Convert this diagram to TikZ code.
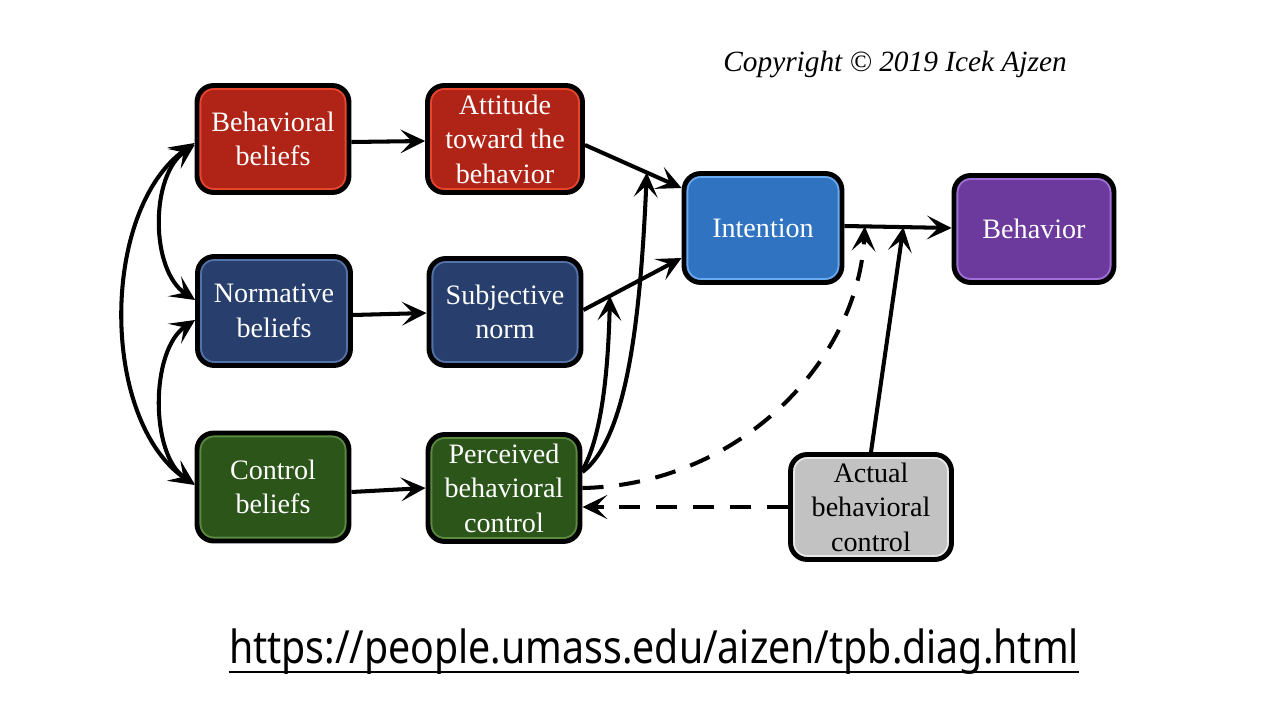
\documentclass[tikz,border=0pt]{standalone}
\usepackage{fontspec}
\setmainfont{Liberation Serif}
\newfontfamily\urlfont[FakeStretch=0.86]{Noto Sans}
\usetikzlibrary{arrows.meta,calc}
\definecolor{cred}{HTML}{B02418}\definecolor{credl}{HTML}{E8452F}
\definecolor{cnav}{HTML}{283F6E}\definecolor{cnavl}{HTML}{5272A8}
\definecolor{cgrn}{HTML}{2B5519}\definecolor{cgrnl}{HTML}{5A8A40}
\definecolor{cblu}{HTML}{2F73C1}\definecolor{cblul}{HTML}{6AAAF0}
\definecolor{cpur}{HTML}{6B3A9C}\definecolor{cpurl}{HTML}{A070D8}
\definecolor{cgry}{HTML}{C2C2C2}\definecolor{cgryl}{HTML}{E8E8E8}
\begin{document}
\begin{tikzpicture}[x=0.02cm,y=-0.02cm,
  box/.style 2 args={rounded corners=9.5pt, line width=2.8pt, draw=black, fill=#1,
    path picture={\draw[#2,line width=5pt,rounded corners=9.5pt]
      (path picture bounding box.south west) rectangle (path picture bounding box.north east);},
    text=white, align=center, inner sep=0pt, font=\fontsize{16}{19.6}\selectfont},
  tip/.tip={Stealth[length=14pt,width=13.5pt,inset=6.5pt]},
  arr/.style={line width=2.3pt, -tip},
  arrtwo/.style={line width=2.3pt, tip-tip},
  dsh/.style={dash pattern=on 12pt off 9pt}]
\fill[white] (0,0) rectangle (1280,713);
\useasboundingbox (0,0) rectangle (1280,713);
% boxes
\node[box={cred}{credl}, minimum width=3.04cm, minimum height=2.14cm] (BB) at (273,139) {Behavioral\\beliefs};
\node[box={cred}{credl}, minimum width=3.10cm, minimum height=2.14cm] (Att) at (505,139) {Attitude\\toward the\\behavior};
\node[box={cnav}{cnavl}, minimum width=3.06cm, minimum height=2.18cm] (NB) at (274,311) {Normative\\beliefs};
\node[box={cnav}{cnavl}, minimum width=3.04cm, minimum height=2.14cm] (SN) at (505,312) {Subjective\\norm};
\node[box={cgrn}{cgrnl}, minimum width=3.04cm, minimum height=2.16cm] (CB) at (273,487) {Control\\beliefs};
\node[box={cgrn}{cgrnl}, minimum width=3.04cm, minimum height=2.14cm] (PBC) at (504,488) {Perceived\\behavioral\\control};
\node[box={cblu}{cblul}, minimum width=3.16cm, minimum height=2.18cm] (Int) at (763,228) {Intention};
\node[box={cpur}{cpurl}, minimum width=3.20cm, minimum height=2.14cm] (Beh) at (1034,229) {Behavior};
\node[box={cgry}{cgryl}, minimum width=3.22cm, minimum height=2.10cm, text=black] (Act) at (871,507) {Actual\\behavioral\\control};
% straight arrows
\draw[arr] ($(BB.east)+(0,3)$) -- ($(Att.west)+(0,2)$);
\draw[arr] ($(NB.east)+(0,4)$) -- ($(SN.west)+(0,1)$);
\draw[arr] ($(CB.east)+(0,5)$) -- (PBC.west);
\draw[arr] ($(Att.east)+(0,6)$) -- coordinate[pos=0.64] (j1) ($(Int.west)+(0,-40)$);
\draw[arr] ($(SN.east)+(0,-2)$) -- coordinate[pos=0.27] (j2) ($(Int.west)+(0,30)$);
\draw[arr] ($(Int.east)+(0,-2)$) -- coordinate[pos=0.19] (j3) coordinate[pos=0.55] (j4) ($(Beh.west)+(0,-1)$);
\draw[arr] (Act.north) -- (j4);
% PBC moderating arrows
\draw[arr] ($(PBC.east)+(0,-18)$) .. controls (600,440) and (608,380) .. (j2);
\draw[arr] ($(PBC.east)+(0,-16)$) .. controls (625,440) and (640,330) .. (j1);
% dashed
\draw[arr,dsh] (PBC.east) .. controls (740,485) and (858,360) .. (j3);
\draw[arr,dsh] (Act.west) -- ($(PBC.east)+(0,19)$);
% left correlations
\draw[arrtwo] ($(BB.west)+(0,4)$) .. controls (100,210) and (100,420) .. ($(CB.west)+(0,-2)$);
\draw[arrtwo] ($(BB.west)+(0,6)$) .. controls (150,175) and (150,270) .. ($(NB.west)+(0,-11)$);
\draw[arrtwo] ($(NB.west)+(0,9)$) .. controls (150,350) and (150,455) .. ($(CB.west)+(0,-3)$);
% texts
\node[font=\fontsize{16.7}{20}\selectfont\itshape] (cr) at (895,64) {Copyright © 2019 Icek Ajzen};
\node[font=\urlfont\fontsize{26}{30}\selectfont, inner sep=0pt] (url) at (654,652) {https://people.umass.edu/aizen/tpb.diag.html};
\draw[line width=1.2pt] ($(url.south west)+(0,-3)$) -- ($(url.south east)+(0,-3)$);
\end{tikzpicture}
\end{document}
